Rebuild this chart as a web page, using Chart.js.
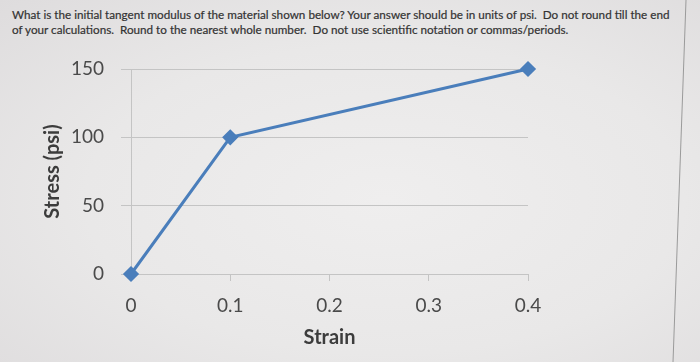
<!DOCTYPE html>
<html>
<head>
<meta charset="utf-8">
<script src="https://cdn.jsdelivr.net/npm/chart.js@4"></script>
<style>
    html, body {
        margin: 0;
        padding: 0;
        width: 700px;
        height: 362px;
        overflow: hidden;
    }
    body {
        position: relative;
        background: radial-gradient(ellipse at 55% 55%, #efeeee 0%, #e9e8e8 55%, #dedcdd 100%);
        font-family: Lato, sans-serif;
    }
    #question {
        position: absolute;
        left: 12px;
        top: 7px;
        font-size: 11.7px;
        line-height: 15px;
        color: #333333;
        white-space: nowrap;
        -webkit-text-stroke: 0.2px #333333;
    }
    #wrap {
        position: absolute;
        left: 0;
        top: 0;
        width: 700px;
        height: 362px;
    }
</style>
</head>
<body>
<div id="question">What is the initial tangent modulus of the material shown below? Your answer should be in units of psi.&nbsp; Do not round till the end<br>of your calculations.&nbsp; Round to the nearest whole number.&nbsp; Do not use scientific notation or commas/periods.</div>
<div id="wrap"><canvas id="stressChart"></canvas></div>
<script>
// Datos de la curva esfuerzo-deformacion
const strain = [0, 0.1, 0.4];
const stress = [0, 100, 150];
const xTicks = [0, 0.1, 0.2, 0.3, 0.4];
const yTicks = [0, 50, 100, 150];
const xTitle = 'Strain';
const yTitle = 'Stress (psi)';

const lineBlue = '#4a7ebb';
const gridGray = '#c4c4c4';
const labelGray = '#4a4a4a';

// borde del monitor a la derecha (foto)
const screenEdge = {
    id: 'screenEdge',
    afterDraw(chart) {
        const ctx = chart.ctx;
        ctx.save();
        ctx.strokeStyle = '#9a9a9a';
        ctx.lineWidth = 1;
        ctx.beginPath();
        ctx.moveTo(686, 0);
        ctx.lineTo(673, 362);
        ctx.stroke();
        ctx.restore();
    }
};

const ctx = document.getElementById('stressChart');
new Chart(ctx, {
    type: 'line',
    data: {
        datasets: [{
            data: strain.map((s, i) => ({ x: s, y: stress[i] })),
            borderColor: lineBlue,
            backgroundColor: lineBlue,
            borderWidth: 3,
            pointStyle: 'rectRot',
            pointRadius: 6,
            pointHoverRadius: 6,
            tension: 0,
            clip: false
        }]
    },
    options: {
        responsive: true,
        maintainAspectRatio: false,
        animation: false,
        layout: {
            padding: { left: 0, right: 172, top: 69, bottom: 0 }
        },
        plugins: {
            legend: { display: false },
            tooltip: { enabled: false }
        },
        scales: {
            x: {
                type: 'linear',
                min: 0,
                max: 0.4,
                afterBuildTicks: (axis) => { axis.ticks = xTicks.map(v => ({ value: v })); },
                afterFit: (axis) => { axis.height = 88; },
                grid: {
                    drawOnChartArea: false,
                    color: gridGray,
                    tickLength: 7
                },
                border: { color: gridGray },
                ticks: {
                    color: labelGray,
                    font: { family: 'Lato', size: 19 },
                    padding: 13,
                    maxRotation: 0,
                    callback: (v) => String(v)
                },
                title: {
                    display: true,
                    text: xTitle,
                    color: '#3c3c3c',
                    font: { family: 'Lato', size: 20, weight: 'bold' },
                    padding: { top: 0, bottom: 12 }
                }
            },
            y: {
                type: 'linear',
                min: 0,
                max: 150,
                afterBuildTicks: (axis) => { axis.ticks = yTicks.map(v => ({ value: v })); },
                afterFit: (axis) => { axis.width = 131; },
                grid: {
                    color: gridGray,
                    tickLength: 10
                },
                border: { color: gridGray },
                ticks: {
                    color: labelGray,
                    font: { family: 'Lato', size: 19 },
                    padding: 17
                },
                title: {
                    display: true,
                    text: yTitle,
                    color: '#3c3c3c',
                    font: { family: 'Lato', size: 20, weight: 'bold' },
                    padding: { top: 41, bottom: 0 }
                }
            }
        }
    },
    plugins: [screenEdge]
});
</script>
</body>
</html>
